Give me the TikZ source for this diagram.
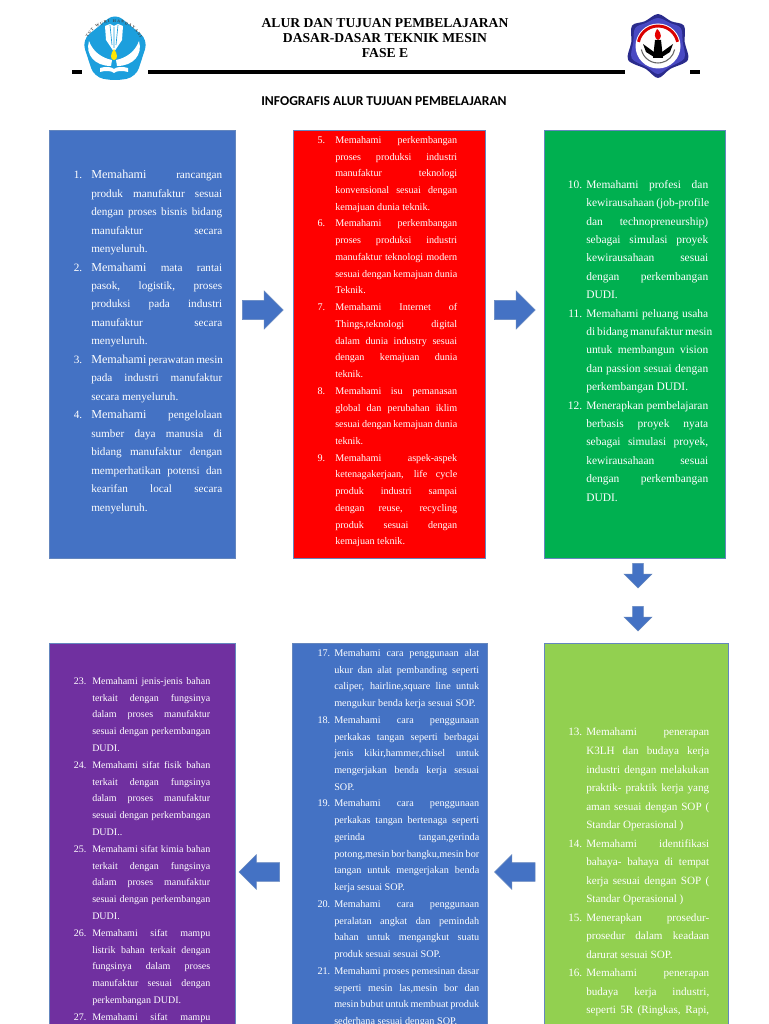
\documentclass[tikz,border=0pt]{standalone}
\usepackage{fontspec}
\setmainfont{Liberation Serif}
\newfontfamily\judulfont{Carlito}
\usetikzlibrary{shapes.arrows,decorations.text}
\definecolor{biru}{HTML}{4472C4}
\definecolor{garis}{HTML}{6486BE}
\definecolor{hijau}{HTML}{00B050}
\definecolor{hijaumuda}{HTML}{92D050}
\definecolor{ungu}{HTML}{7030A0}
\definecolor{birulogo}{HTML}{1C9FDD}
\definecolor{birutua}{HTML}{2A2B8C}
\newlength{\lebar}
\newlength{\jarakno}
\newcommand{\brs}[2][]{\hbox to \lebar{\llap{#1\hspace{\jarakno}}#2}}
\newcommand{\akh}[2][]{\hbox{\llap{#1\hspace{\jarakno}}#2}}
\newcommand{\Mem}{{\fontsize{9.1}{10}\selectfont Memahami}}
\tikzset{
  kotak/.style={draw=garis, line width=0.75pt, inner sep=0pt, outer sep=0pt},
  ukuran/.style 2 args={minimum width=#1*0.75pt, minimum height=#2*0.75pt},
  isi/.style n args={4}{anchor=north west, inner sep=0pt, text=white, text width=#1*0.75pt, align=justify,
    /utils/exec={\pgfmathsetlength{\lebar}{#1*0.75pt}\setlength{\jarakno}{#4}},
    font=\fontsize{#2}{#3}\selectfont},
  panah/.style={single arrow, draw=garis, fill=biru, line width=0.4pt, inner xsep=0pt,
    inner ysep=7pt, single arrow head extend=7pt, minimum height=30.5pt, outer sep=0pt},
  panahkecil/.style={single arrow, draw=garis, fill=biru, line width=0.4pt, inner ysep=0pt,
    inner xsep=3.9pt, single arrow head extend=6.3pt, minimum height=18.4pt,
    shape border rotate=270, outer sep=0pt},
}
\begin{document}
\begin{tikzpicture}[x=0.75pt, y=-0.75pt]
  \useasboundingbox (0,0) rectangle (768,1024);
  \clip (0,0) rectangle (768,1024);
  \fill[white] (0,0) rectangle (768,1024);

  \node[align=center, font=\fontsize{10.2}{11.25}\selectfont\bfseries] (judul) at (385,38)
    {ALUR DAN TUJUAN PEMBELAJARAN\\DASAR-DASAR TEKNIK MESIN\\FASE E};
  \coordinate (garisA) at (148,72);
  \coordinate (garisB) at (625,72);
  \coordinate (stubA) at (72,72);
  \coordinate (stubB) at (82,72);
  \coordinate (stubC) at (690,72);
  \coordinate (stubD) at (700,72);
  \draw[line width=2.4pt] (garisA) -- (garisB);
  \draw[line width=2.4pt] (stubA) -- (stubB);
  \draw[line width=2.4pt] (stubC) -- (stubD);
  \node[font=\judulfont\bfseries\fontsize{10.2}{11}\selectfont] (infografis) at (384,101)
    {INFOGRAFIS ALUR TUJUAN PEMBELAJARAN};

  \fill[birulogo, rounded corners=7pt] (115,13) -- (148,40) -- (136,77) -- (115,81) -- (94,77) -- (82,40) -- cycle;
  \fill[white] (105,26) -- (110,24) -- (114,26) -- (118,24) -- (123,26) -- (122,40) -- (114,52) -- (106,40) -- cycle;
  \draw[birulogo, line width=0.5pt] (110,25) -- (112,45) (118,25) -- (116,45) (114,27) -- (114,48);
  \fill[white] (89,41) .. controls (85,55) and (95,66) .. (111,66) -- (112,60) .. controls (102,58) and (93,52) .. (89,41);
  \fill[white] (139,41) .. controls (143,55) and (133,66) .. (117,66) -- (116,60) .. controls (126,58) and (135,52) .. (139,41);
  \fill[yellow!90!orange] (114,49) .. controls (118,54) and (118,60) .. (114,60) .. controls (110,60) and (110,54) .. (114,49);
  \fill[white] (100,68) .. controls (106,66) and (112,67) .. (114,69) .. controls (116,67) and (122,66) .. (128,68) -- (128,72) .. controls (122,70) and (116,71) .. (114,73) .. controls (112,71) and (106,70) .. (100,72) -- cycle;
  \path[postaction={decorate}, decoration={text along path, text align={fit to path},
    text={|\bfseries\fontsize{3}{4}\selectfont\color{black!75}|TUT WURI HANDAYANI}}]
    (88,38) .. controls (98,17) and (130,17) .. (140,38);

  \begin{scope}[shift={(658,46)}]
    \fill[birutua] plot[smooth cycle, tension=0.55] coordinates {
      (90:32) (62:26) (25:33) (-8:27) (-38:33) (-62:28) (-90:32) (-118:28) (-142:33) (-172:27) (155:33) (118:26)};
    \fill[blue!35!birutua!80!white] plot[smooth cycle, tension=0.55] coordinates {
      (90:28) (62:24) (25:29) (-8:25) (-38:29) (-62:26) (-90:28) (-118:26) (-142:29) (-172:25) (155:29) (118:24)};
    \fill[white] (0,0) circle (22.5);
    \draw[red!85!black, line width=2.2pt] (-168:20) arc (-168:-12:20);
    \fill[red!90!black] (-1,-17) .. controls (5,-12) and (3,-7) .. (0,-6) .. controls (-4,-8) and (-4,-12) .. (-1,-17);
    \fill[black] (-3,-6) -- (3,-6) -- (5,12) -- (-5,12) -- cycle;
    \fill[black] (-15,-2) -- (-4,6) -- (-4,11) -- (-12,6) -- cycle;
    \fill[black] (15,-2) -- (4,6) -- (4,11) -- (12,6) -- cycle;
    \draw[black!60, line width=0.8pt] (168:17) arc (168:12:17);
  \end{scope}

  \node[kotak, fill=biru, ukuran={186}{428}] (kotak1) at (142,344) {};
  \node[kotak, fill=red, ukuran={192}{428}] (kotak2) at (389,344) {};
  \node[kotak, fill=hijau, ukuran={181}{428}] (kotak3) at (634.5,344) {};
  \node[kotak, fill=hijaumuda, ukuran={184}{457}] (kotak4) at (636,871.5) {};
  \node[kotak, fill=biru, ukuran={195}{457}] (kotak5) at (389.5,871.5) {};
  \node[kotak, fill=ungu, ukuran={186}{457}] (kotak6) at (142,871.5) {};

  \node[isi={131}{8.4}{13.85}{6.75pt}] (teks1) at (91,170) {%
    \brs[1.]{\Mem{} rancangan}
    \brs{produk manufaktur sesuai}
    \brs{dengan proses bisnis bidang}
    \brs{manufaktur secara}
    \akh{menyeluruh.}
    \brs[2.]{\Mem{} mata rantai}
    \brs{pasok, logistik, proses}
    \brs{produksi pada industri}
    \brs{manufaktur secara}
    \akh{menyeluruh.}
    \brs[3.]{\Mem{} perawatan mesin}
    \brs{pada industri manufaktur}
    \akh{secara menyeluruh.}
    \brs[4.]{\Mem{} pengelolaan}
    \brs{sumber daya manusia di}
    \brs{bidang manufaktur dengan}
    \brs{memperhatikan potensi dan}
    \brs{kearifan local secara}
    \akh{menyeluruh.}};

  \node[isi={122}{7.6}{12.55}{7.5pt}] (teks2) at (335,136) {%
    \brs[5.]{Memahami perkembangan}
    \brs{proses produksi industri}
    \brs{manufaktur teknologi}
    \brs{konvensional sesuai dengan}
    \akh{kemajuan dunia teknik.}
    \brs[6.]{Memahami perkembangan}
    \brs{proses produksi industri}
    \brs{manufaktur teknologi modern}
    \brs{sesuai dengan kemajuan dunia}
    \akh{Teknik.}
    \brs[7.]{Memahami Internet of}
    \brs{Things,teknologi digital}
    \brs{dalam dunia industry sesuai}
    \brs{dengan kemajuan dunia}
    \akh{teknik.}
    \brs[8.]{Memahami isu pemanasan}
    \brs{global dan perubahan iklim}
    \brs{sesuai dengan kemajuan dunia}
    \akh{teknik.}
    \brs[9.]{Memahami aspek-aspek}
    \brs{ketenagakerjaan, life cycle}
    \brs{produk industri sampai}
    \brs{dengan reuse, recycling}
    \brs{produk sesuai dengan}
    \akh{kemajuan teknik.}};

  \node[isi={122}{8.6}{13.8}{3pt}] (teks3) at (586,180) {%
    \brs[10.]{Memahami profesi dan}
    \brs{kewirausahaan (job-profile}
    \brs{dan technopreneurship)}
    \brs{sebagai simulasi proyek}
    \brs{kewirausahaan sesuai}
    \brs{dengan perkembangan}
    \akh{DUDI.}
    \brs[11.]{Memahami peluang usaha}
    \brs{di bidang manufaktur mesin}
    \brs{untuk membangun vision}
    \brs{dan passion sesuai dengan}
    \akh{perkembangan DUDI.}
    \brs[12.]{Menerapkan pembelajaran}
    \brs{berbasis proyek nyata}
    \brs{sebagai simulasi proyek,}
    \brs{kewirausahaan sesuai}
    \brs{dengan perkembangan}
    \akh{DUDI.}};

  \node[isi={123}{8.35}{13.9}{3pt}] (teks4) at (586,728) {%
    \brs[13.]{Memahami penerapan}
    \brs{K3LH dan budaya kerja}
    \brs{industri dengan melakukan}
    \brs{praktik- praktik kerja yang}
    \brs{aman sesuai dengan SOP (}
    \akh{Standar Operasional )}
    \brs[14.]{Memahami identifikasi}
    \brs{bahaya- bahaya di tempat}
    \brs{kerja sesuai dengan SOP (}
    \akh{Standar Operasional )}
    \brs[15.]{Menerapkan prosedur-}
    \brs{prosedur dalam keadaan}
    \akh{darurat sesuai SOP.}
    \brs[16.]{Memahami penerapan}
    \brs{budaya kerja industri,}
    \brs{seperti 5R (Ringkas, Rapi,}
    \brs{Resik, Rawat, Rajin )}};

  \node[isi={145}{7.65}{12.55}{3pt}] (teks5) at (334,649) {%
    \brs[17.]{Memahami cara penggunaan alat}
    \brs{ukur dan alat pembanding seperti}
    \brs{caliper, hairline,square line untuk}
    \akh{mengukur benda kerja sesuai SOP.}
    \brs[18.]{Memahami cara penggunaan}
    \brs{perkakas tangan seperti berbagai}
    \brs{jenis kikir,hammer,chisel untuk}
    \brs{mengerjakan benda kerja sesuai}
    \akh{SOP.}
    \brs[19.]{Memahami cara penggunaan}
    \brs{perkakas tangan bertenaga seperti}
    \brs{gerinda tangan,gerinda}
    \brs{potong,mesin bor bangku,mesin bor}
    \brs{tangan untuk mengerjakan benda}
    \akh{kerja sesuai SOP.}
    \brs[20.]{Memahami cara penggunaan}
    \brs{peralatan angkat dan pemindah}
    \brs{bahan untuk mengangkut suatu}
    \akh{produk sesuai sesuai SOP.}
    \brs[21.]{Memahami proses pemesinan dasar}
    \brs{seperti mesin las,mesin bor dan}
    \brs{mesin bubut untuk membuat produk}
    \akh{sederhana sesuai dengan SOP.}};

  \node[isi={118}{7.5}{12.6}{4.5pt}] (teks6) at (92,677) {%
    \brs[23.]{Memahami jenis-jenis bahan}
    \brs{terkait dengan fungsinya}
    \brs{dalam proses manufaktur}
    \brs{sesuai dengan perkembangan}
    \akh{DUDI.}
    \brs[24.]{Memahami sifat fisik bahan}
    \brs{terkait dengan fungsinya}
    \brs{dalam proses manufaktur}
    \brs{sesuai dengan perkembangan}
    \akh{DUDI..}
    \brs[25.]{Memahami sifat kimia bahan}
    \brs{terkait dengan fungsinya}
    \brs{dalam proses manufaktur}
    \brs{sesuai dengan perkembangan}
    \akh{DUDI.}
    \brs[26.]{Memahami sifat mampu}
    \brs{listrik bahan terkait dengan}
    \brs{fungsinya dalam proses}
    \brs{manufaktur sesuai dengan}
    \akh{perkembangan DUDI.}
    \brs[27.]{Memahami sifat mampu}};

  \node[panah] (panah1) at (258,310) {};
  \node[panah] (panah2) at (510,310) {};
  \node[panahkecil] (panah3) at (638,573) {};
  \node[panahkecil] (panah4) at (638,616) {};
  \node[panah, shape border rotate=180, inner ysep=6.75pt, single arrow head extend=6pt] (panah5) at (519.5,872) {};
  \node[panah, shape border rotate=180, inner ysep=6.75pt, single arrow head extend=6pt] (panah6) at (264,872) {};
\end{tikzpicture}
\end{document}
